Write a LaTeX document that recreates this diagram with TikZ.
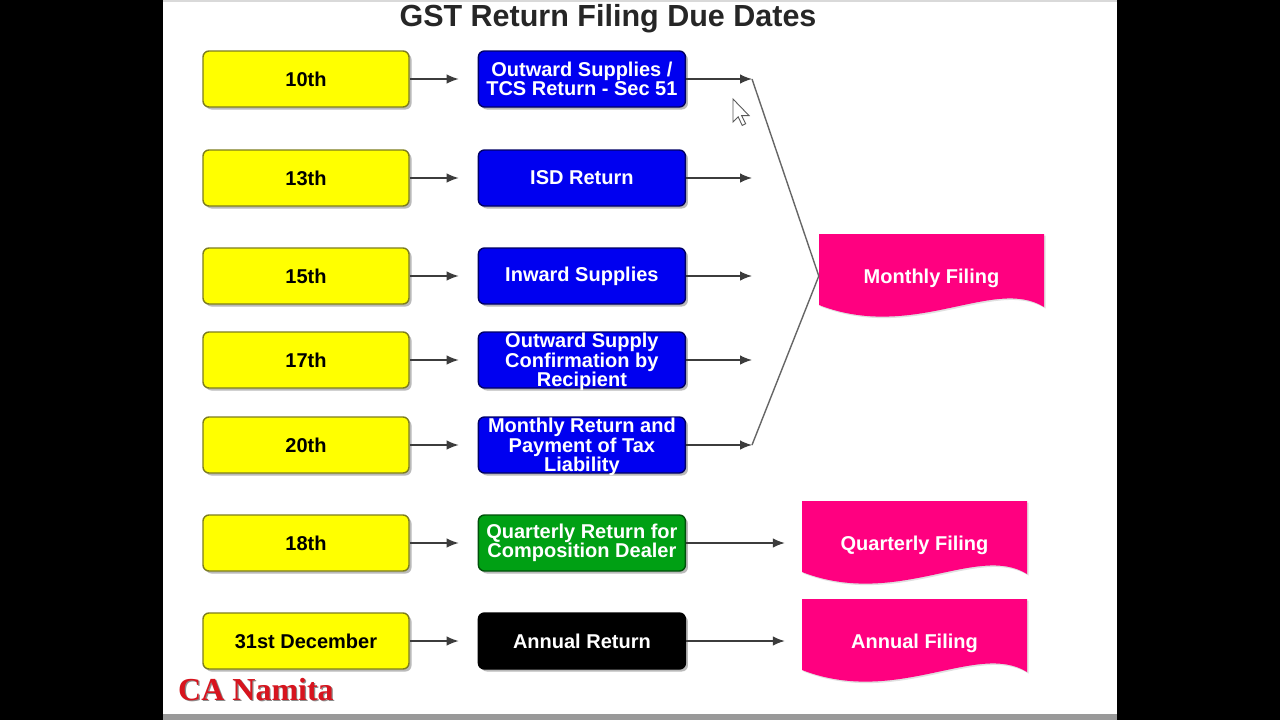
\documentclass[tikz,border=0pt]{standalone}
\usepackage{fontspec}
\setmainfont{Liberation Sans}
\newfontfamily\signfont{Liberation Serif}
\usetikzlibrary{arrows.meta}
\usetikzlibrary{positioning}
\usetikzlibrary{shadows}

\definecolor{dateyellow}{RGB}{255,255,0}
\definecolor{dateborder}{RGB}{125,125,30}
\definecolor{retblue}{RGB}{0,0,240}
\definecolor{retborder}{RGB}{0,0,100}
\definecolor{retgreen}{RGB}{0,160,20}
\definecolor{retgreenborder}{RGB}{0,80,10}
\definecolor{filingpink}{RGB}{255,0,128}
\definecolor{signred}{RGB}{215,20,30}
\definecolor{linkgray}{RGB}{60,60,60}

% document shape of a filing box, given its top left corner
\newcommand{\filingdoc}[1]{%
  \fill[black!12, shift={(#1)}, xshift=1.5pt, yshift=-1.5pt] (0,0) -- (225,0) -- (225,73)
    .. controls (175,42) and (95,108) .. (0,71) -- cycle;
  \fill[filingpink, shift={(#1)}] (0,0) -- (225,0) -- (225,73)
    .. controls (175,42) and (95,108) .. (0,71) -- cycle;
}

\begin{document}
\begin{tikzpicture}[x=1pt, y=-1pt, >={Latex[length=12pt,width=9.5pt]},
    link/.style={draw=linkgray, line width=1.4pt},
    datebox/.style={draw=dateborder, line width=1.4pt, fill=dateyellow, rounded corners=6pt,
        minimum width=206pt, minimum height=56pt, inner sep=0.5pt,
        font=\fontsize{20}{19.5}\selectfont\bfseries, text=black,
        drop shadow={shadow xshift=2.5pt, shadow yshift=-2.5pt, fill=black!45, opacity=0.6}},
    returnbox/.style={draw=retborder, line width=1.4pt, fill=retblue, rounded corners=6pt,
        minimum width=207pt, minimum height=56pt, inner sep=0.5pt, align=center,
        font=\fontsize{20}{19.5}\selectfont\bfseries, text=white,
        drop shadow={shadow xshift=2.5pt, shadow yshift=-2.5pt, fill=black!45, opacity=0.6}},
    filing/.style={minimum width=225pt, inner sep=0pt, text depth=0pt,
        font=\fontsize{20}{19.5}\selectfont\bfseries, text=white},
    node distance=68pt]

    % Frame

    \useasboundingbox (0,0) rectangle (1280,720);
    \fill[black] (0,0) rectangle (1280,720);
    \fill[white] (163,0) rectangle (1117,714);
    \fill[black!15] (163,0) rectangle (1117,2);
    \fill[black!40] (163,714) rectangle (1117,720);

    \node[anchor=base, font=\fontsize{30.5}{31}\selectfont\bfseries, text=black!85] (title)
        at (608,26) {GST Return Filing Due Dates};

    % Nodes

    \node[datebox] (d1) at (306,79)  {10th};
    \node[datebox] (d2) at (306,178) {13th};
    \node[datebox] (d3) at (306,276) {15th};
    \node[datebox] (d4) at (306,360) {17th};
    \node[datebox] (d5) at (306,445) {20th};
    \node[datebox] (d6) at (306,543) {18th};
    \node[datebox] (d7) at (306,641) {31st December};

    \node[returnbox, right=of d1] (r1) {Outward Supplies /\\TCS Return - Sec 51};
    \node[returnbox, right=of d2] (r2) {ISD Return};
    \node[returnbox, right=of d3] (r3) {Inward Supplies};
    \node[returnbox, right=of d4, text depth=0pt] (r4) {Outward Supply\\Confirmation by\\Recipient};
    \node[returnbox, right=of d5, text depth=0pt] (r5) {Monthly Return and\\Payment of Tax\\Liability};
    \node[returnbox, right=of d6, fill=retgreen, draw=retgreenborder] (r6)
        {Quarterly Return for\\Composition Dealer};
    \node[returnbox, right=of d7, fill=black, draw=black] (r7) {Annual Return};

    \filingdoc{819,234}
    \filingdoc{802,501}
    \filingdoc{802,599}
    \node[filing] (monthly)   at (931.5,276) {Monthly Filing};
    \node[filing] (quarterly) at (914.5,543) {Quarterly Filing};
    \node[filing] (annual)    at (914.5,641) {Annual Filing};

    \coordinate (m1) at (752,79);
    \coordinate (m2) at (752,178);
    \coordinate (m3) at (752,276);
    \coordinate (m4) at (752,360);
    \coordinate (m5) at (752,445);

    % Edges

    \draw[link, ->, shorten >=19pt] (d1) -- (r1);
    \draw[link, ->, shorten >=19pt] (d2) -- (r2);
    \draw[link, ->, shorten >=19pt] (d3) -- (r3);
    \draw[link, ->, shorten >=19pt] (d4) -- (r4);
    \draw[link, ->, shorten >=19pt] (d5) -- (r5);
    \draw[link, ->, shorten >=19pt] (d6) -- (r6);
    \draw[link, ->, shorten >=19pt] (d7) -- (r7);

    \draw[link, ->] (r1) -- (m1);
    \draw[link, ->] (r2) -- (m2);
    \draw[link, ->] (r3) -- (m3);
    \draw[link, ->] (r4) -- (m4);
    \draw[link, ->] (r5) -- (m5);
    \draw[link, draw=black!60] (m1) -- (monthly.west);
    \draw[link, draw=black!60] (m5) -- (monthly.west);

    \draw[link, ->, shorten >=17pt] (r6) -- (quarterly);
    \draw[link, ->, shorten >=17pt] (r7) -- (annual);

    % Mouse pointer
    \draw[black!65, fill=white, line width=0.9pt, shift={(733,99)}, scale=1.15] (0,0) -- (0,20) -- (4.5,15.5)
        -- (8,23) -- (11,21.5) -- (7.5,14.5) -- (14,14.5) -- cycle;

    % Signature
    \node[anchor=base west, inner sep=0pt, font=\signfont\fontsize{32}{33}\selectfont\bfseries,
        text=black!45] at (179.2,701.2) {CA Namita};
    \node[anchor=base west, inner sep=0pt, font=\signfont\fontsize{32}{33}\selectfont\bfseries,
        text=signred] (sign) at (178,700) {CA Namita};

\end{tikzpicture}
\end{document}
